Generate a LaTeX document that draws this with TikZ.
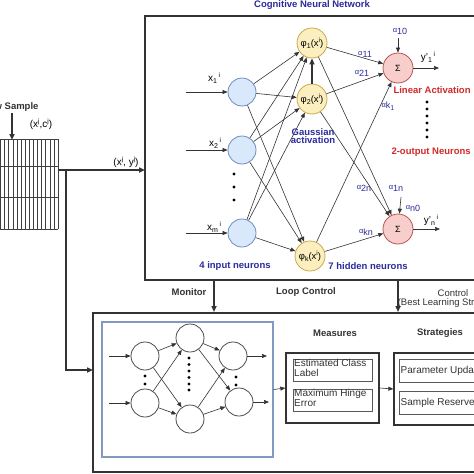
\documentclass[tikz,border=0pt]{standalone}
\usepackage{fontspec}
\setmainfont{Liberation Sans}
\usetikzlibrary{arrows.meta}
\definecolor{bluetxt}{HTML}{2B2B9C}
\definecolor{redtxt}{HTML}{D02A2A}
\definecolor{infill}{HTML}{DAE8FC}
\definecolor{indraw}{HTML}{6C8EBF}
\definecolor{hidfill}{HTML}{FBEFC0}
\definecolor{hiddraw}{HTML}{C9A94A}
\definecolor{outfill}{HTML}{F8CECC}
\definecolor{outdraw}{HTML}{B85450}
\definecolor{lnc}{HTML}{333333}
\definecolor{bbox}{HTML}{8299C2}
\newcommand\fs[1]{\fontsize{#1}{#1}\selectfont}
\newcommand\al[1]{\raisebox{0.3ex}{\fs{7.5}α}#1}
\newcommand\lo[1]{\raisebox{-0.35ex}{\fs{7}#1}}
\newcommand\hi[1]{\raisebox{0.75ex}{\fs{6.5}#1}}
\begin{document}
\begin{tikzpicture}[x=1pt,y=-1pt,
  every node/.style={font=\fs{10}},
  inneur/.style={circle,draw=indraw,fill=infill,minimum size=28pt,inner sep=0pt,line width=0.8pt},
  hidneur/.style={circle,draw=hiddraw,fill=hidfill,minimum size=30pt,inner sep=0pt,line width=0.8pt,font=\fs{9.5}},
  outneur/.style={circle,draw=outdraw,fill=outfill,minimum size=30pt,inner sep=0pt,line width=0.8pt,font=\fs{9}},
  snn/.style={circle,draw=black!70,fill=white,minimum size=28pt,inner sep=0pt,line width=0.8pt},
  conn/.style={draw=lnc,line width=0.6pt,-{Triangle[length=5pt,width=4pt]}},
  thickconn/.style={draw=lnc,line width=1.5pt,-{Triangle[length=6pt,width=5pt]}},
  boxline/.style={draw=lnc,line width=1.6pt},
  btxt/.style={text=bluetxt,font=\bfseries\fs{9.5}},
  rtxt/.style={text=redtxt,font=\bfseries\fs{9.5}},
  ktxt/.style={text=lnc,font=\bfseries\fs{9.5}},
  altxt/.style={text=bluetxt,font=\fs{9}},
  dotf/.style={fill=black}]
\useasboundingbox (0,0) rectangle (474,474);
\fill[white] (0,0) rectangle (474,474);

% ---------- top box ----------
\draw[boxline] (145,16) rectangle (490,280);
\node[btxt] (title) at (312,5) {Cognitive Neural Network};

% input neurons
\node[inneur] (i1) at (242,92) {};
\node[inneur] (i2) at (242,150) {};
\node[inneur] (im) at (242,233) {};
\coordinate (xi1) at (186,92);
\coordinate (xi2) at (186,150);
\coordinate (xim) at (186,233);
\draw[conn] (xi1) -- (i1);
\draw[conn] (xi2) -- (i2);
\draw[conn] (xim) -- (im);
\node (lx1) at (214,78) {x\lo{1}\,\hi{i}};
\node (lx2) at (215,143) {x\lo{2}\,\hi{i}};
\node (lxm) at (214,227) {x\lo{m}\,\hi{i}};
\foreach \yy in {174,187,200} \fill[dotf] (234,\yy) circle (1.7pt);

% hidden neurons
\node[hidneur] (h1) at (312,43) {φ\lo{1}(x\hi{i})};
\node[hidneur] (h2) at (312,99) {φ\lo{2}(x\hi{i})};
\node[hidneur] (hk) at (310,256) {φ\lo{k}(x\hi{i})};

% output neurons
\node[outneur] (o1) at (398,68) {Σ};
\node[outneur] (on) at (398,229) {Σ};

% connections input -> hidden
\foreach \a in {i1,i2,im}
  \foreach \b in {h1,h2,hk}
    \draw[conn] (\a) -- (\b);
\draw[thickconn] (h2) -- (h1);
% hidden -> output
\foreach \a in {h1,h2,hk}
  \foreach \b in {o1,on}
    \draw[conn] (\a) -- (\b);

% biases and outputs
\coordinate (b10) at (398,38);
\draw[conn] (b10) -- (o1);
\coordinate (bn0) at (401,197);
\draw[conn] (bn0) -- (on);
\coordinate (y1) at (439,68);
\coordinate (yn) at (440,229);
\draw[conn] (o1) -- (y1);
\draw[conn] (on) -- (yn);

% alpha labels
\node[altxt] at (400,31) {\al{10}};
\node[altxt] at (365,54) {\al{11}};
\node[altxt] at (362,73) {\al{21}};
\node[altxt] at (388,106) {\al{k\lo{1}}};
\node[altxt] at (364,188) {\al{2n}};
\node[altxt] at (396,188) {\al{1n}};
\node[altxt] at (413,208) {\al{n0}};
\node[altxt] at (366,232) {\al{kn}};
\node at (428,57) {y'\lo{1}\,\hi{i}};
\node at (431,220) {y'\lo{n}\,\hi{i}};

% descriptive texts
\node[btxt,align=center] (gauss) at (313,136) {Gaussian\\[-1pt]activation};
\node[rtxt,anchor=west] (lin) at (390,90) {Linear Activation};
\foreach \yy in {102,109,116,123,130,137} \fill[dotf] (427,\yy) circle (1.6pt);
\node[rtxt,anchor=west] (two) at (388,152) {2-output Neurons};
\node[btxt] (four) at (235,266) {4 input neurons};
\node[btxt] (seven) at (368,266) {7 hidden neurons};

% ---------- left: new sample and data grid ----------
\node[ktxt,anchor=east] (ns) at (42,107) {New Sample};
\coordinate (nsA) at (12,113);
\coordinate (nsB) at (12,140);
\draw[thickconn] (nsA) -- (nsB);
\node (xc) at (41,124) {(x\hi{j},c\hi{j})};
\foreach \yy in {139,166,197,229} \draw[draw=black!75,line width=0.7pt] (-2,\yy) -- (58,\yy);
\foreach \k in {0,...,14} \draw[draw=black!75,line width=0.7pt] (0.5+4.12*\k,139) -- (0.5+4.12*\k,229);

\coordinate (gr) at (58,170);
\coordinate (cnnin) at (145,170);
\draw[thickconn] (gr) -- (cnnin);
\node (xy) at (126,162) {(x\hi{j}, y\hi{j})};
\coordinate (br) at (66,170);
\coordinate (brb) at (66,370);
\coordinate (bbin) at (93,370);
\draw[thickconn] (br) -- (brb) -- (bbin);

% ---------- bottom box ----------
\draw[boxline] (93,313) rectangle (490,472);
\coordinate (monA) at (214,280);
\coordinate (monB) at (214,312);
\draw[thickconn] (monA) -- (monB);
\node[ktxt] (mon) at (189,292) {Monitor};
\node[ktxt] (loop) at (306,292) {Loop Control};
\coordinate (ctlA) at (398,280);
\coordinate (ctlB) at (398,312);
\draw[thickconn] (ctlA) -- (ctlB);
\node[align=center,text=lnc,font=\fs{9.5}] (ctl) at (453,299) {Control\\[-0.5pt](Best Learning Strategies)};

% inner network box
\node[draw=bbox,line width=1.2pt,minimum width=171pt,minimum height=135pt,inner sep=0pt] (bb) at (187.5,389.5) {};
\node[snn] (s1a) at (145,356) {};
\node[snn] (s1b) at (145,403) {};
\node[snn] (s2a) at (190,338) {};
\node[snn] (s2b) at (190,419) {};
\node[snn] (s3a) at (233,356) {};
\node[snn] (s3b) at (239,402) {};
\coordinate (sin1) at (109,356);
\coordinate (sin2) at (109,403);
\coordinate (sout1) at (267,356);
\coordinate (sout2) at (269,402);
\draw[conn] (sin1) -- (s1a);
\draw[conn] (sin2) -- (s1b);
\foreach \a in {s1a,s1b}
  \foreach \b in {s2a,s2b}
    \draw[conn] (\a) -- (\b);
\foreach \a in {s2a,s2b}
  \foreach \b in {s3a,s3b}
    \draw[conn] (\a) -- (\b);
\draw[conn] (s3a) -- (sout1);
\draw[conn] (s3b) -- (sout2);
\foreach \yy in {376,384} \fill[dotf] (145,\yy) circle (1.6pt);
\foreach \yy in {358,364.5,371,377.5,384,390} \fill[dotf] (189,\yy) circle (1.6pt);
\foreach \yy in {377,385} \fill[dotf] (236,\yy) circle (1.6pt);

% measures
\node[ktxt] (mt) at (335,333) {Measures};
\node[draw=lnc,line width=1.3pt,minimum width=93pt,minimum height=70pt,inner sep=0pt] (meas) at (332.5,388) {};
\node[draw=black!65,line width=1pt,minimum width=79pt,minimum height=22pt,inner sep=0pt] (m1) at (332.5,370) {};
\node[draw=black!65,line width=1pt,minimum width=79pt,minimum height=22pt,inner sep=0pt] (m2) at (332.5,400) {};
\node[anchor=north west,align=left,inner sep=0pt,font=\fs{10},text=lnc] at ([yshift=-0.5pt]m1.north west) {\hspace{1.5pt}Estimated Class\\[0pt]\hspace{1.5pt}Label};
\node[anchor=north west,align=left,inner sep=0pt,font=\fs{10},text=lnc] at ([yshift=-0.5pt]m2.north west) {\hspace{1.5pt}Maximum Hinge\\[0pt]\hspace{1.5pt}Error};
\draw[conn] (bb.east) -- (meas.west);

% strategies
\node[ktxt] (st) at (440,333) {Strategies};
\node[draw=lnc,line width=1.3pt,minimum width=100pt,minimum height=72pt,inner sep=0pt] (strat) at (444,389) {};
\node[draw=black!65,line width=1pt,minimum width=90pt,minimum height=23pt,inner sep=0pt] (st1) at (444,370.5) {};
\node[draw=black!65,line width=1pt,minimum width=90pt,minimum height=23pt,inner sep=0pt] (st2) at (444,402.5) {};
\node[anchor=west,inner sep=0pt,font=\fs{10},text=lnc] at ([xshift=2pt]st1.west) {Parameter Update};
\node[anchor=west,inner sep=0pt,font=\fs{10},text=lnc] at ([xshift=2pt]st2.west) {Sample Reserve};
\draw[conn] (meas.east) -- (strat.west);
\end{tikzpicture}
\end{document}
